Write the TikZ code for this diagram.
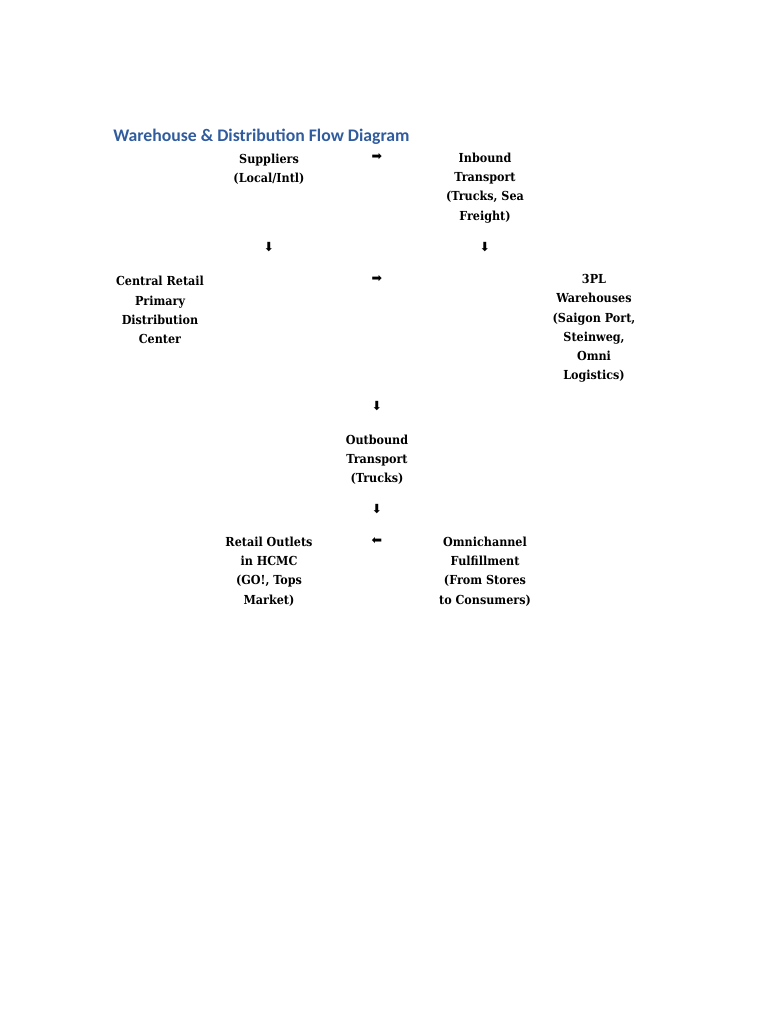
\documentclass[tikz,border=0pt]{standalone}
\usepackage{fontspec}
\newfontfamily\cellfont{DejaVu Serif Condensed}
\newfontfamily\titlefont{Carlito}
\newfontfamily\arrowfont{DejaVu Sans}
\definecolor{titleblue}{HTML}{305C9E}

\begin{document}
\begin{tikzpicture}[x=0.797pt,y=-0.797pt,
  cell/.style={align=center,inner sep=0pt,font=\cellfont\bfseries\fontsize{9.9}{15.3}\selectfont},
  arr/.style={inner sep=0pt,font=\arrowfont\fontsize{10}{10}\selectfont}]
  \useasboundingbox (0,0) rectangle (768,1024);
  \node[anchor=base west,inner sep=0pt,text=titleblue,font=\titlefont\bfseries\fontsize{14.1}{16}\selectfont] (title) at (113,141) {Warehouse \& Distribution Flow Diagram};
  % first row
  \node[cell] (sup)  at (269,169.5) {Suppliers\\(Local/Intl)};
  \node[arr]  (a1)   at (377,157)   {➡};
  \node[cell] (inb)  at (485,188)   {Inbound\\Transport\\(Trucks, Sea\\Freight)};
  \node[arr]  (a2)   at (269,247)   {⬇};
  \node[arr]  (a3)   at (485,247)   {⬇};
  % centres
  \node[cell] (cdc)  at (160,310)   {Central Retail\\Primary\\Distribution\\Center};
  \node[arr]  (a4)   at (377,279)   {➡};
  \node[cell] (tpl)  at (594,328.5) {3PL\\Warehouses\\(Saigon Port,\\Steinweg,\\Omni\\Logistics)};
  \node[arr]  (a5)   at (377,406)   {⬇};
  \node[cell] (outb) at (377,460)   {Outbound\\Transport\\(Trucks)};
  \node[arr]  (a6)   at (377,509)   {⬇};
  % last row
  \node[cell] (ret)  at (269,571.5) {Retail Outlets\\in HCMC\\(GO!, Tops\\Market)};
  \node[arr]  (a7)   at (377,541)   {⬅};
  \node[cell] (omni) at (485,571.5) {Omnichannel\\Fulfillment\\(From Stores\\to Consumers)};
\end{tikzpicture}
\end{document}
